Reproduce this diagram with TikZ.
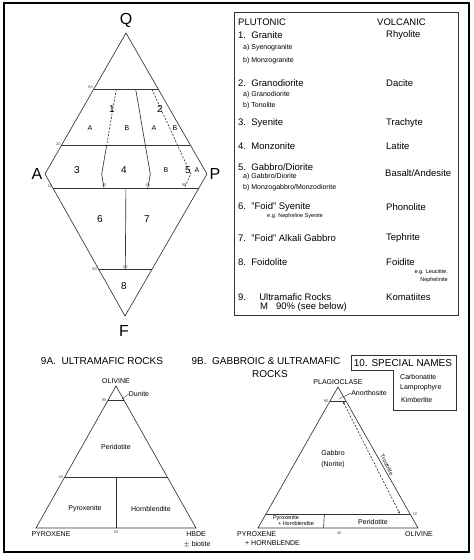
\documentclass[tikz,border=0pt]{standalone}
\usepackage{fontspec}
\setmainfont{Liberation Sans}
\usetikzlibrary{calc, positioning, arrows.meta}

\begin{document}
\begin{tikzpicture}[
    x=1pt, y=-1pt,
    edge/.style={draw=black!80, line width=0.65pt},
    dashedge/.style={edge, dash pattern=on 2pt off 1.5pt},
    vertex/.style={font=\fontsize{16}{16}\selectfont, inner sep=0pt},
    field/.style={font=\fontsize{10}{10}\selectfont, inner sep=0pt},
    subfield/.style={font=\fontsize{7}{7}\selectfont, inner sep=0pt},
    tick/.style={font=\fontsize{4}{4}\selectfont, text=black!70, inner sep=0.5pt},
    item/.style={font=\fontsize{9.5}{10}\selectfont, anchor=west, inner sep=0pt},
    subitem/.style={font=\fontsize{7}{8}\selectfont, anchor=west, inner sep=0pt},
    note/.style={font=\fontsize{5.5}{6}\selectfont, inner sep=0pt},
    rock/.style={font=\fontsize{7}{7}\selectfont, inner sep=0pt},
    corner/.style={font=\fontsize{7}{7}\selectfont, inner sep=0pt},
    title/.style={font=\fontsize{10}{10}\selectfont, inner sep=0pt}
]
\useasboundingbox (0,0) rectangle (474,560);

% Frame
\draw[line width=1.4pt] (4,3) rectangle (469,552);

% QAPF diamond
\coordinate (Q) at (126,33);
\coordinate (A) at (45,174);
\coordinate (P) at (207,174);
\coordinate (F) at (125,316);
\draw[edge] (Q) -- (A) -- (F) -- (P) -- cycle;

\coordinate (q60a) at ($(Q)!0.4!(A)$);
\coordinate (q60p) at ($(Q)!0.4!(P)$);
\coordinate (q20a) at ($(Q)!0.8!(A)$);
\coordinate (q20p) at ($(Q)!0.8!(P)$);
\coordinate (f10a) at ($(A)!0.1!(F)$);
\coordinate (f10p) at ($(P)!0.1!(F)$);
\coordinate (f60a) at ($(A)!0.67!(F)$);
\coordinate (f60p) at ($(P)!0.67!(F)$);
\coordinate (f10m) at ($(f10a)!0.5!(f10p)$);
\coordinate (f60m) at ($(f60a)!0.5!(f60p)$);
\draw[edge] (q60a) -- (q60p);
\draw[edge] (q20a) -- (q20p);
\draw[edge] (f10a) -- (f10p);
\draw[edge] (f60a) -- (f60p);
\draw[edge] (f10m) -- (f60m);

% Ratio lines 35, 65, 90
\coordinate (u35) at ($(q60a)!0.35!(q60p)$);
\coordinate (m35) at ($(A)!0.35!(P)$);
\coordinate (k35) at ($(Q)!0.8!(m35)$);
\coordinate (l35) at ($(f10a)!0.35!(f10p)$);
\coordinate (u65) at ($(q60a)!0.65!(q60p)$);
\coordinate (m65) at ($(A)!0.65!(P)$);
\coordinate (l65) at ($(f10a)!0.65!(f10p)$);
\coordinate (u90) at ($(q60a)!0.9!(q60p)$);
\coordinate (m90) at ($(A)!0.9!(P)$);
\coordinate (l90) at ($(f10a)!0.9!(f10p)$);
\draw[dashedge] (u35) -- (k35);
\draw[edge] (k35) -- (m35) -- (l35);
\draw[edge] (u65) -- (m65) -- (l65);
\draw[dashedge] (u90) -- (m90) -- (l90);

% Corner letters
\node[vertex] (lblQ) at (126,20) {Q};
\node[vertex] (lblA) at (37,174) {A};
\node[vertex] (lblP) at (215,174) {P};
\node[vertex] (lblF) at (124,331) {F};

% Tick values
\node[tick, anchor=south east] (t60) at (q60a) {60};
\node[tick, anchor=south east] (t20) at (q20a) {20};
\node[tick, anchor=south east] (t10) at (f10a) {10};
\node[tick, above=0.5pt of l35] (t35) {35};
\node[tick, above=0.5pt of l65] (t65) {65};
\node[tick, above=0.5pt of l90] (t90) {90};
\node[tick, left=1pt of f60a] (tf60) {60};
\node[tick, above=0pt of f60m] (t50) {50};

% Fields
\node[field] (n1) at (112,109) {1};
\node[field] (n2) at (160,109) {2};
\node[subfield] (a1) at (90,128) {A};
\node[subfield] (b1) at (127,128) {B};
\node[subfield] (a2) at (154,128) {A};
\node[subfield] (b2) at (175,128) {B};
\node[field] (n3) at (77,170) {3};
\node[field] (n4) at (124,170) {4};
\node[subfield] (b5) at (166,170) {B};
\node[field] (n5) at (188,170) {5};
\node[subfield] (a5) at (197,170) {A};
\node[field] (n6) at (100,219) {6};
\node[field] (n7) at (147,219) {7};
\node[field] (n8) at (124,286) {8};

% Legend
\draw[edge] (234,12) rectangle (458,315);
\node[item] (plutonic) at (238,22) {PLUTONIC};
\node[item] (volcanic) at (377,22) {VOLCANIC};
\node[item] (granite) at (238,35) {1.\ \ Granite};
\node[item] (rhyolite) at (386,35) {Rhyolite};
\node[subitem] (syenogranite) at (243,48) {a)\ Syenogranite};
\node[subitem] (monzogranite) at (243,61) {b)\ Monzogranite};
\node[item] (granodiorite) at (238,83) {2.\ \ Granodiorite};
\node[item] (dacite) at (386,83) {Dacite};
\node[subitem] (granodiorite2) at (243,95) {a)\ Granodiorite};
\node[subitem] (tonolite) at (243,106) {b)\ Tonolite};
\node[item] (syenite) at (238,123) {3.\ \ Syenite};
\node[item] (trachyte) at (386,123) {Trachyte};
\node[item] (monzonite) at (238,146) {4.\ \ Monzonite};
\node[item] (latite) at (386,146) {Latite};
\node[item] (gabbro) at (238,167) {5.\ \ Gabbro/Diorite};
\node[item] (basalt) at (385,173) {Basalt/Andesite};
\node[subitem] (gabbro2) at (243,177) {a)\ Gabbro/Diorite};
\node[subitem] (monzogabbro) at (243,188) {b)\ Monzogabbro/Monzodiorite};
\node[item] (foidsyenite) at (238,207) {6.\ \ "Foid" Syenite};
\node[item] (phonolite) at (386,207) {Phonolite};
\node[note, anchor=west] (nepheline) at (267,216) {e.g. Nepheline Syenite};
\node[item] (foidgabbro) at (238,238) {7.\ \ "Foid" Alkali Gabbro};
\node[item] (tephrite) at (386,238) {Tephrite};
\node[item] (foidolite) at (238,262) {8.\ \ Foidolite};
\node[item] (foidite) at (386,262) {Foidite};
\node[note, anchor=east] (leucitite) at (448,272) {e.g. Leucitite,};
\node[note, anchor=east] (nephelinite) at (448,280) {Nephelinite};
\node[item] (ultramafic) at (238,297) {9.\ \ \ \ \ Ultramafic Rocks};
\node[item] (mafic) at (260,307) {M\ \ \ 90\% (see below)};
\node[item] (komatiite) at (386,297) {Komatiites};

% 9A ultramafic
\node[title] (title9a) at (102,361) {9A.\ \ ULTRAMAFIC ROCKS};
\coordinate (ol) at (116,386);
\coordinate (px) at (36,528);
\coordinate (hb) at (196,528);
\draw[edge] (ol) -- (px) -- (hb) -- cycle;
\coordinate (u90a) at ($(ol)!0.1!(px)$);
\coordinate (u90h) at ($(ol)!0.1!(hb)$);
\coordinate (u40a) at ($(ol)!0.64!(px)$);
\coordinate (u40h) at ($(ol)!0.64!(hb)$);
\coordinate (u40m) at ($(u40a)!0.5!(u40h)$);
\coordinate (u50) at ($(px)!0.5!(hb)$);
\draw[edge] (u90a) -- (u90h);
\draw[edge] (u40a) -- (u40h);
\draw[edge] (u40m) -- (u50);
\node[tick, left=1pt of u90a] (ta90) {90};
\node[tick, left=1pt of u40a] (ta40) {40};
\node[tick, below=2pt of u50] (ta50) {50};
\node[corner, above=2pt of ol] (olivine) {OLIVINE};
\node[rock] (dunite) at (139,394) {Dunite};
\coordinate (dunitept) at (122,399);
\draw[edge, line width=0.4pt] (dunitept) -- (dunite.west);
\node[rock] (peridotite) at (116,447) {Peridotite};
\node[rock] (pyroxenite) at (85,509) {Pyroxenite};
\node[rock] (hornblendite) at (151,509) {Hornblendite};
\node[corner] (pyroxene) at (51,534) {PYROXENE};
\node[corner] (hbde) at (196,534) {HBDE};
\node[rock] (biotite) at (197,544) {$\pm$ biotite};

% 9B gabbroic
\node[title] (title9b) at (266,361) {9B.\ \ GABBROIC \& ULTRAMAFIC};
\node[title] (title9b2) at (270,374) {ROCKS};
\coordinate (pl) at (338,387);
\coordinate (pxh) at (258,528);
\coordinate (olb) at (418,528);
\draw[edge] (pl) -- (pxh) -- (olb) -- cycle;
\coordinate (b90a) at ($(pl)!0.1!(pxh)$);
\coordinate (b90o) at ($(pl)!0.1!(olb)$);
\coordinate (b10a) at ($(pl)!0.9!(pxh)$);
\coordinate (b10o) at ($(pl)!0.9!(olb)$);
\coordinate (b40t) at ($(b10a)!0.405!(b10o)$);
\coordinate (b40b) at ($(pxh)!0.41!(olb)$);
\coordinate (trtop) at ($(b90a)!0.8!(b90o)$);
\coordinate (trbot) at ($(b10a)!0.93!(b10o)$);
\draw[edge] (b90a) -- (b90o);
\draw[edge] (b10a) -- (b10o);
\draw[edge] (b40t) -- (b40b);
\draw[dashedge, {Latex[length=2.5pt,width=2pt]}-{Latex[length=2.5pt,width=2pt]}] (trtop) -- (trbot);
\node[note, rotate=-62.8] (troctolite) at (387,465) {Troctolite};
\node[tick, left=1pt of b90a] (tb90) {90};
\node[tick, right=2pt of b10o] (tb10) {10};
\node[tick] (tb40) at (339,533) {40};
\node[corner, above=2pt of pl] (plagioclase) {PLAGIOCLASE};
\node[rock] (anorthosite) at (369,393) {Anorthosite};
\coordinate (anorthpt) at (339,399);
\draw[edge, line width=0.4pt] (anorthpt) -- (anorthosite.west);
\node[rock] (gabbrob) at (333,453) {Gabbro};
\node[rock] (norite) at (333,465) {(Norite)};
\node[note] (pyroxeniteb) at (286,518) {Pyroxenite};
\node[note] (hornblenditeb) at (296,524) {+ Hornblendite};
\node[rock] (peridotiteb) at (373,522) {Peridotite};
\node[corner, anchor=west] (pyroxeneb) at (237,534) {PYROXENE};
\node[corner, anchor=west] (hornblendeb) at (245,543) {+ HORNBLENDE};
\node[corner] (olivineb) at (419,534) {OLIVINE};

% Special names
\draw[edge] (351,355) -- (456,355) -- (456,410) -- (393,410) -- (393,370) -- (351,370) -- cycle;
\node[title] (special) at (403,363) {10. SPECIAL NAMES};
\node[rock, anchor=west] (carbonatite) at (400,377) {Carbonatite};
\node[rock, anchor=west] (lamprophyre) at (400,388) {Lamprophyre};
\node[rock, anchor=west] (kimberlite) at (401,400) {Kimberlite};

\end{tikzpicture}
\end{document}
